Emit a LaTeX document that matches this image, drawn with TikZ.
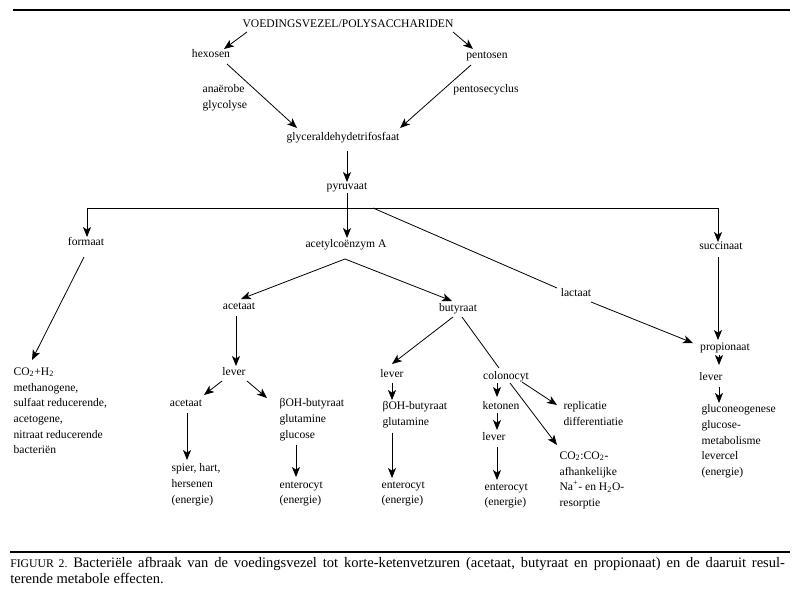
\documentclass[tikz,border=0pt]{standalone}
\usepackage{fontspec}
\setmainfont{Liberation Serif}
\usetikzlibrary{arrows.meta,calc}
\tikzset{
  lbl/.style={font=\fontsize{8.7}{11.8}\selectfont, inner sep=1pt, text height=6.2pt, text depth=1.8pt},
  blk/.style={font=\fontsize{8.7}{11.8}\selectfont, inner sep=1pt, align=left, anchor=north west},
  con/.style={line width=0.6pt},
  arr/.style={con, -{Stealth[length=7.5pt,width=6pt,inset=2pt]}},
  arr2/.style={con, {Stealth[length=7.5pt,width=6pt,inset=2pt]}-{Stealth[length=7.5pt,width=6pt,inset=2pt]}},
  rule/.style={line width=1pt},
  captxt/.style={font=\fontsize{10.9}{13}\selectfont\frenchspacing, inner sep=0pt, anchor=base west}
}
\begin{document}
\begin{tikzpicture}[x=0.75pt,y=-0.75pt]
\useasboundingbox (0,0) rectangle (800,596);
\draw[rule] (13,10) -- (790,10);
\draw[rule] (10,552) -- (790,552);

% nodes
\node[lbl] (voed) at (348,25) {VOEDINGSVEZEL/POLYSACCHARIDEN};
\node[lbl] (hexosen) at (211,55) {hexosen};
\node[lbl] (pentosen) at (487,56) {pentosen};
\node[blk] (anaerobe) at (201,83) {anaërobe\\glycolyse};
\node[lbl] (pentcyc) at (486,90) {pentosecyclus};
\node[lbl] (glyc) at (343,138) {glyceraldehydetrifosfaat};
\node[lbl] (pyr) at (347,187) {pyruvaat};
\node[lbl] (acetyl) at (346,245) {acetylcoënzym A};
\node[lbl] (formaat) at (86,243) {formaat};
\node[lbl] (succinaat) at (721,247) {succinaat};
\node[lbl] (lactaat) at (576,294) {lactaat};
\node[lbl] (propionaat) at (725,348) {propionaat};
\node[lbl] (leverR) at (711,378) {lever};
\node[blk] (gluc) at (700,403) {gluconeogenese\\glucose-\\metabolisme\\levercel\\(energie)};
\node[lbl] (acetaat) at (239,307) {acetaat};
\node[lbl] (butyraat) at (458,309) {butyraat};
\node[lbl] (leverA) at (234,373) {lever};
\node[lbl] (acetaat2) at (186,404) {acetaat};
\node[blk] (boh1) at (278,397) {βOH-butyraat\\glutamine\\glucose};
\node[blk] (spier) at (170,462) {spier, hart,\\hersenen\\(energie)};
\node[blk] (ent1) at (278,480) {enterocyt\\(energie)};
\node[blk] (co2h2) at (12,366) {CO\textsubscript{2}+H\textsubscript{2}\\methanogene,\\sulfaat reducerende,\\acetogene,\\nitraat reducerende\\bacteriën};
\node[lbl] (leverB) at (392,375) {lever};
\node[blk] (boh2) at (381,400) {βOH-butyraat\\glutamine};
\node[blk] (ent2) at (380,480) {enterocyt\\(energie)};
\node[lbl] (colonocyt) at (506,377) {colonocyt};
\node[lbl] (ketonen) at (501,407) {ketonen};
\node[lbl] (leverC) at (494,438) {lever};
\node[blk] (ent3) at (483,482) {enterocyt\\(energie)};
\node[blk] (repl) at (562,400) {replicatie\\differentiatie};
\node[blk] (co2b) at (558,450) {CO\textsubscript{2}:CO\textsubscript{2}-\\afhankelijke\\Na\textsuperscript{+}- en H\textsubscript{2}O-\\resorptie};

\coordinate (hl) at (87,208);
\coordinate (hr) at (718,208);
\coordinate (lj) at (373,208);

% connectors
\draw[arr] ($(voed)+(-101,7)$) -- ($(hexosen)+(13,-6)$);
\draw[arr] ($(voed)+(105,7)$) -- ($(pentosen)+(-14,-7)$);
\draw[arr] ($(hexosen)+(16,9)$) -- ($(glyc)+(-46,-10)$);
\draw[arr] ($(pentosen)+(-16,9)$) -- ($(glyc)+(57,-10)$);
\draw[arr] ($(glyc)+(4,13)$) -- ($(pyr)+(0,-5)$);
\draw[arr] ($(pyr)+(0,6)$) -- ($(acetyl)+(1,-7)$);
\draw[arr2] ($(formaat)+(1,-6)$) |- (hr) -- ($(succinaat)+(-3,-5)$);
\draw[con] (lj) -- ($(lactaat)+(-19,-6)$);
\draw[arr] ($(lactaat)+(15,8)$) -- ($(propionaat)+(-32,-5)$);
\draw[arr] ($(succinaat)+(-3,10)$) -- ($(propionaat)+(-7,-8)$);
\draw[arr] ($(propionaat)+(-6,7)$) -- ($(leverR)+(8,-13)$);
\draw[arr] ($(leverR)+(8,9)$) -- ($(gluc.north west)+(19,0)$);
\draw[arr] ($(acetyl)+(-1,14)$) -- ($(acetaat)+(2,-8)$);
\draw[arr] ($(acetyl)+(-1,14)$) -- ($(butyraat)+(-6,-8)$);
\draw[arr] ($(acetaat)+(-3,9)$) -- ($(leverA)+(2,-7)$);
\draw[arr] ($(leverA)+(-12,8)$) -- ($(acetaat2)+(18,-9)$);
\draw[arr] ($(leverA)+(13,8)$) -- ($(boh1.north west)+(-11,1)$);
\draw[arr] ($(acetaat2)+(1,9)$) -- ($(spier.north west)+(17,-2)$);
\draw[arr] ($(boh1.south west)+(18,3)$) -- ($(ent1.north west)+(18,-3)$);
\draw[arr] ($(formaat)+(-2,14)$) -- ($(co2h2.north west)+(20,-6)$);
\draw[arr] ($(butyraat)+(-5,8)$) -- ($(leverB)+(0,-11)$);
\draw[con] ($(butyraat)+(4,8)$) -- ($(colonocyt)+(-7,-9)$);
\draw[arr] ($(leverB)+(0,8)$) -- ($(boh2.north west)+(11,0)$);
\draw[arr] ($(boh2.south west)+(11,3)$) -- ($(ent2.north west)+(12,-2)$);
\draw[arr] ($(colonocyt)+(-9,6)$) -- ($(ketonen)+(-4,-10)$);
\draw[arr] ($(ketonen)+(-4,6)$) -- ($(leverC)+(3,-8)$);
\draw[arr] ($(leverC)+(3,9)$) -- ($(ent3.north west)+(14,-2)$);
\draw[arr] ($(colonocyt)+(16,5)$) -- ($(repl.north west)+(-5,5)$);
\draw[arr] ($(colonocyt)+(4,6)$) -- ($(co2b.north west)+(-1,-5)$);

% caption
\node[captxt] (cap1) at (10,567) {\makebox[581pt][s]{{\fontsize{8.8}{10}\selectfont FIGUUR 2.} Bacteriële afbraak van de voedingsvezel tot korte-ketenvetzuren (acetaat, butyraat en propionaat) en de daaruit resul-}};
\node[captxt] (cap2) at (10,583) {terende metabole effecten.};
\end{tikzpicture}
\end{document}
